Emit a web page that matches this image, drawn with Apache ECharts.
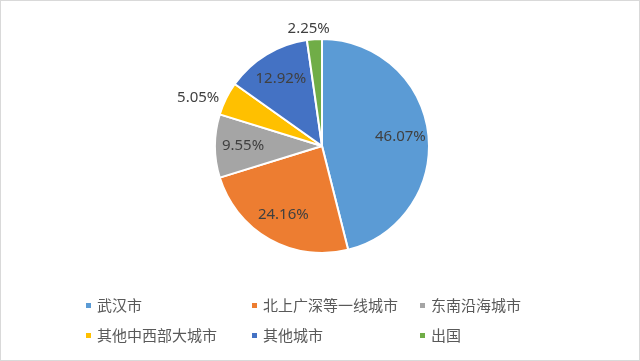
<!DOCTYPE html>
<html>
<head>
<meta charset="utf-8">
<script src="https://cdn.jsdelivr.net/npm/echarts@6/dist/echarts.min.js"></script>
<style>
  html, body { margin: 0; padding: 0; background: #fff; }
  #main {
    width: 640px;
    height: 361px;
    box-sizing: border-box;
    border: 1px solid #d9d9d9;
  }
</style>
</head>
<body>
<div id="main"></div>
<script>
// 毕业去向分布
const names = ['武汉市', '北上广深等一线城市', '东南沿海城市', '其他中西部大城市', '其他城市', '出国']
const values = [46.07, 24.16, 9.55, 5.05, 12.92, 2.25]
const colors = ['#5B9BD5', '#ED7D31', '#A5A5A5', '#FFC000', '#4472C4', '#70AD47']
// 哪些标签放在外面
const outside = [false, false, false, true, false, true]

// legend 位置 (两行三列)
const legendPos = [
  [78, 292], [244, 292], [412, 292],
  [78, 322], [244, 322], [412, 322]
]
// 外部标签线长度
const outLen = [0, 0, 0, 2, 0, 11]

let myChart = echarts.init(document.getElementById('main'))

const labelFont = {
  color: '#404040',
  fontSize: 15,
  fontFamily: 'Noto Sans'
}

// 扇区 + 外部标签
let pieData = names.map((n, i) => {
  let item = {
    name: n,
    value: values[i],
    itemStyle: { color: colors[i] },
    label: { show: outside[i] }
  }
  if (outside[i]) {
    item.labelLine = { show: false, length: outLen[i], length2: 0 }
  }
  return item
})

// 内部标签 (透明的第二层，用来把标签放远一点)
let innerData = names.map((n, i) => ({
  name: n,
  value: values[i],
  itemStyle: { color: 'rgba(0,0,0,0)' },
  label: { show: !outside[i] }
}))

let legends = names.map((n, i) => ({
  data: [n],
  left: legendPos[i][0],
  top: legendPos[i][1],
  icon: 'rect',
  itemWidth: 7,
  itemHeight: 7,
  itemGap: 0,
  textStyle: {
    color: '#595959',
    fontSize: 15,
    fontFamily: 'Noto Sans CJK SC'
  }
}))

let option = {
  backgroundColor: '#fff',
  animation: false,
  legend: legends,
  series: [
    {
      type: 'pie',
      center: [321, 145],
      radius: 107,
      startAngle: 90,
      clockwise: true,
      avoidLabelOverlap: false,
      itemStyle: {
        borderColor: '#fff',
        borderWidth: 2
      },
      label: Object.assign({
        position: 'outside',
        formatter: p => p.value.toFixed(2) + '%'
      }, labelFont),
      labelLayout: p => (p.dataIndex === 5 ? { align: 'center' } : {}),
      data: pieData
    },
    {
      type: 'pie',
      center: [321, 145],
      radius: [40, 112],
      startAngle: 90,
      clockwise: true,
      silent: true,
      legendHoverLink: false,
      label: Object.assign({
        position: 'inside',
        formatter: p => p.value.toFixed(2) + '%'
      }, labelFont),
      labelLine: { show: false },
      data: innerData
    }
  ]
}
myChart.setOption(option)
</script>
</body>
</html>
